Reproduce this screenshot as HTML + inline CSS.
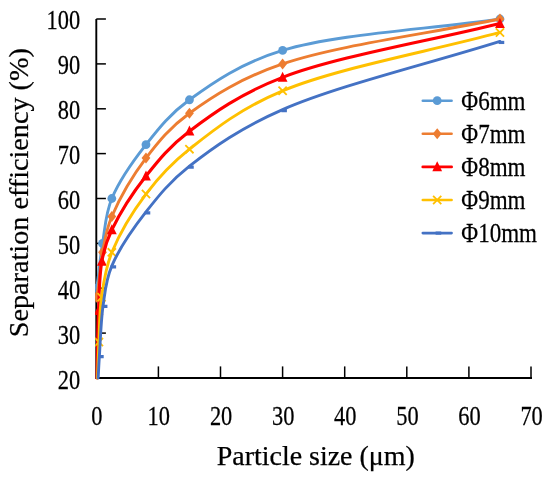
<!DOCTYPE html><html><head><meta charset="utf-8"><style>html,body{margin:0;padding:0;background:#fff;overflow:hidden;}svg{display:block;}text{font-family:"Liberation Serif","Times New Roman",serif;fill:#000;stroke:#000;stroke-width:0.25px;}</style></head><body>
<svg width="550" height="481" viewBox="0 0 550 481">
<g stroke="#000" stroke-width="1.9" fill="none">
<path d="M96.3,19.0L96.3,378.0L532.0,378.0"/>
</g><g stroke="#000" stroke-width="1.5" fill="none">
<path d="M96.3,333.1h9.6"/>
<path d="M96.3,288.2h9.6"/>
<path d="M96.3,243.4h9.6"/>
<path d="M96.3,198.5h9.6"/>
<path d="M96.3,153.6h9.6"/>
<path d="M96.3,108.8h9.6"/>
<path d="M96.3,63.9h9.6"/>
<path d="M96.3,19.0h9.6"/>
<path d="M158.4,378.0v-11.6"/>
<path d="M220.5,378.0v-11.6"/>
<path d="M282.6,378.0v-11.6"/>
<path d="M344.7,378.0v-11.6"/>
<path d="M406.8,378.0v-11.6"/>
<path d="M468.9,378.0v-11.6"/>
<path d="M531.0,378.0v-11.6"/>
</g>
<text transform="translate(80.10,389.10) scale(0.815,1)" font-size="27.50" text-anchor="end">20</text>
<text transform="translate(80.10,344.04) scale(0.815,1)" font-size="27.50" text-anchor="end">30</text>
<text transform="translate(80.10,298.98) scale(0.815,1)" font-size="27.50" text-anchor="end">40</text>
<text transform="translate(80.10,253.91) scale(0.815,1)" font-size="27.50" text-anchor="end">50</text>
<text transform="translate(80.10,208.85) scale(0.815,1)" font-size="27.50" text-anchor="end">60</text>
<text transform="translate(80.10,163.79) scale(0.815,1)" font-size="27.50" text-anchor="end">70</text>
<text transform="translate(80.10,118.72) scale(0.815,1)" font-size="27.50" text-anchor="end">80</text>
<text transform="translate(80.10,73.66) scale(0.815,1)" font-size="27.50" text-anchor="end">90</text>
<text transform="translate(80.10,28.60) scale(0.815,1)" font-size="27.50" text-anchor="end">100</text>
<text transform="translate(96.90,425.00) scale(0.815,1)" font-size="27.50" text-anchor="middle">0</text>
<text transform="translate(158.70,425.00) scale(0.815,1)" font-size="27.50" text-anchor="middle">10</text>
<text transform="translate(221.10,425.00) scale(0.815,1)" font-size="27.50" text-anchor="middle">20</text>
<text transform="translate(283.20,425.00) scale(0.815,1)" font-size="27.50" text-anchor="middle">30</text>
<text transform="translate(345.30,425.00) scale(0.815,1)" font-size="27.50" text-anchor="middle">40</text>
<text transform="translate(407.40,425.00) scale(0.815,1)" font-size="27.50" text-anchor="middle">50</text>
<text transform="translate(469.50,425.00) scale(0.815,1)" font-size="27.50" text-anchor="middle">60</text>
<text transform="translate(531.60,425.00) scale(0.815,1)" font-size="27.50" text-anchor="middle">70</text>
<text transform="translate(216.70,465.00) scale(1.000,1)" font-size="27.96" text-anchor="start">Particle size (μm)</text>
<text transform="translate(28.2,337.2) rotate(-90)" font-size="28.2">Separation efficiency (%)</text>
<defs><clipPath id="pc"><rect x="95.2" y="0" width="460" height="481"/></clipPath></defs><g clip-path="url(#pc)">
<path d="M96.30,288.25 C98.30,282.25 99.93,258.30 102.51,243.38 C105.10,228.39 105.40,213.94 111.83,198.50 C119.03,181.16 132.98,161.15 145.98,144.65 C158.88,128.26 169.80,114.16 189.45,99.77 C213.05,82.50 240.65,63.22 282.60,50.41 C336.83,33.85 427.50,29.47 499.95,19.00" stroke="#5B9BD5" stroke-width="2.9" fill="none" stroke-linejoin="round" stroke-linecap="round"/>
<circle cx="96.30" cy="288.25" r="4.40" fill="#5B9BD5"/>
<circle cx="102.51" cy="243.38" r="4.40" fill="#5B9BD5"/>
<circle cx="111.83" cy="198.50" r="4.40" fill="#5B9BD5"/>
<circle cx="145.98" cy="144.65" r="4.40" fill="#5B9BD5"/>
<circle cx="189.45" cy="99.77" r="4.40" fill="#5B9BD5"/>
<circle cx="282.60" cy="50.41" r="4.40" fill="#5B9BD5"/>
<circle cx="499.95" cy="19.00" r="4.40" fill="#5B9BD5"/>
<path d="M96.30,297.22 C98.80,291.22 99.79,266.21 102.51,252.35 C105.05,239.43 105.98,230.12 111.83,216.45 C119.04,199.59 132.82,175.50 145.98,158.11 C158.79,141.20 169.80,127.62 189.45,113.24 C213.05,95.96 240.76,78.18 282.60,63.88 C336.89,45.31 427.50,33.96 499.95,19.00" stroke="#ED7D31" stroke-width="2.9" fill="none" stroke-linejoin="round" stroke-linecap="round"/>
<path d="M96.30,291.72L100.70,297.22L96.30,302.72L91.90,297.22Z" fill="#ED7D31"/>
<path d="M102.51,246.85L106.91,252.35L102.51,257.85L98.11,252.35Z" fill="#ED7D31"/>
<path d="M111.83,210.95L116.23,216.45L111.83,221.95L107.42,216.45Z" fill="#ED7D31"/>
<path d="M145.98,152.61L150.38,158.11L145.98,163.61L141.58,158.11Z" fill="#ED7D31"/>
<path d="M189.45,107.74L193.85,113.24L189.45,118.74L185.05,113.24Z" fill="#ED7D31"/>
<path d="M282.60,58.38L287.00,63.88L282.60,69.38L278.20,63.88Z" fill="#ED7D31"/>
<path d="M499.95,13.50L504.35,19.00L499.95,24.50L495.55,19.00Z" fill="#ED7D31"/>
<path d="M96.92,378.00 C97.44,355.56 97.56,330.96 98.47,310.69 C99.29,292.49 99.32,275.43 101.89,261.32 C104.12,249.09 105.98,242.05 111.83,229.91 C119.19,214.61 132.98,192.57 145.98,176.06 C158.88,159.68 169.90,146.09 189.45,131.19 C213.10,113.16 240.64,93.52 282.60,77.34 C336.83,56.43 427.50,41.44 499.95,23.49" stroke="#FF0000" stroke-width="3.1" fill="none" stroke-linejoin="round" stroke-linecap="round"/>
<path d="M98.47,305.09L103.37,315.09L93.57,315.09Z" fill="#FF0000"/>
<path d="M101.89,255.72L106.79,265.72L96.99,265.72Z" fill="#FF0000"/>
<path d="M111.83,224.31L116.73,234.31L106.92,234.31Z" fill="#FF0000"/>
<path d="M145.98,170.46L150.88,180.46L141.08,180.46Z" fill="#FF0000"/>
<path d="M189.45,125.59L194.35,135.59L184.55,135.59Z" fill="#FF0000"/>
<path d="M282.60,71.74L287.50,81.74L277.70,81.74Z" fill="#FF0000"/>
<path d="M499.95,17.89L504.85,27.89L495.05,27.89Z" fill="#FF0000"/>
<path d="M97.54,378.00 C98.00,366.03 98.29,354.96 98.91,342.10 C99.58,328.19 99.38,312.12 101.52,297.22 C103.67,282.20 105.35,268.26 111.83,252.35 C119.23,234.15 132.82,211.40 145.98,194.01 C158.79,177.10 170.01,164.55 189.45,149.14 C213.14,130.36 240.47,108.36 282.60,90.80 C336.75,68.24 427.50,51.91 499.95,32.46" stroke="#FFC000" stroke-width="2.9" fill="none" stroke-linejoin="round" stroke-linecap="round"/>
<path d="M94.81,338.00L103.01,346.20M94.81,346.20L103.01,338.00" stroke="#FFC000" stroke-width="1.8" fill="none"/>
<path d="M97.42,293.12L105.62,301.32M97.42,301.32L105.62,293.12" stroke="#FFC000" stroke-width="1.8" fill="none"/>
<path d="M107.73,248.25L115.92,256.45M107.73,256.45L115.92,248.25" stroke="#FFC000" stroke-width="1.8" fill="none"/>
<path d="M141.88,189.91L150.08,198.11M141.88,198.11L150.08,189.91" stroke="#FFC000" stroke-width="1.8" fill="none"/>
<path d="M185.35,145.04L193.55,153.24M185.35,153.24L193.55,145.04" stroke="#FFC000" stroke-width="1.8" fill="none"/>
<path d="M278.50,86.70L286.70,94.90M278.50,94.90L286.70,86.70" stroke="#FFC000" stroke-width="1.8" fill="none"/>
<path d="M495.85,28.36L504.05,36.56M495.85,36.56L504.05,28.36" stroke="#FFC000" stroke-width="1.8" fill="none"/>
<path d="M98.16,378.00 C98.58,370.52 98.77,365.25 99.41,355.56 C100.25,342.70 100.91,320.74 103.13,305.30 C105.19,291.01 105.79,279.96 111.83,265.81 C118.90,249.22 133.01,228.59 145.98,211.96 C158.90,195.39 169.91,181.59 189.45,166.19 C213.10,147.55 240.69,127.94 282.60,109.65 C336.85,85.97 427.50,64.17 499.95,41.44" stroke="#4472C4" stroke-width="2.9" fill="none" stroke-linejoin="round" stroke-linecap="round"/>
<path d="M98.11,356.56L103.70,356.56" stroke="#4472C4" stroke-width="3.2" fill="none"/>
<path d="M101.83,306.30L107.43,306.30" stroke="#4472C4" stroke-width="3.2" fill="none"/>
<path d="M110.53,266.81L116.12,266.81" stroke="#4472C4" stroke-width="3.2" fill="none"/>
<path d="M144.68,212.96L150.28,212.96" stroke="#4472C4" stroke-width="3.2" fill="none"/>
<path d="M188.15,167.19L193.75,167.19" stroke="#4472C4" stroke-width="3.2" fill="none"/>
<path d="M281.30,110.65L286.90,110.65" stroke="#4472C4" stroke-width="3.2" fill="none"/>
<path d="M498.65,42.44L504.25,42.44" stroke="#4472C4" stroke-width="3.2" fill="none"/>
</g>
<path d="M422.8,100.7H451.6" stroke="#5B9BD5" stroke-width="2.6" stroke-linecap="round"/>
<circle cx="437.20" cy="100.70" r="4.40" fill="#5B9BD5"/>
<text transform="translate(461.30,109.70) scale(0.838,1)" font-size="27.50" text-anchor="start">Φ6mm</text>
<path d="M422.8,133.8H451.6" stroke="#ED7D31" stroke-width="2.6" stroke-linecap="round"/>
<path d="M437.20,128.30L441.60,133.80L437.20,139.30L432.80,133.80Z" fill="#ED7D31"/>
<text transform="translate(461.30,142.80) scale(0.838,1)" font-size="27.50" text-anchor="start">Φ7mm</text>
<path d="M422.8,166.9H451.6" stroke="#FF0000" stroke-width="2.8" stroke-linecap="round"/>
<path d="M437.20,161.30L442.10,171.30L432.30,171.30Z" fill="#FF0000"/>
<text transform="translate(461.30,175.90) scale(0.838,1)" font-size="27.50" text-anchor="start">Φ8mm</text>
<path d="M422.8,200.0H451.6" stroke="#FFC000" stroke-width="2.6" stroke-linecap="round"/>
<path d="M433.10,195.90L441.30,204.10M433.10,204.10L441.30,195.90" stroke="#FFC000" stroke-width="1.8" fill="none"/>
<text transform="translate(461.30,209.00) scale(0.838,1)" font-size="27.50" text-anchor="start">Φ9mm</text>
<path d="M422.8,233.1H451.6" stroke="#4472C4" stroke-width="2.6" stroke-linecap="round"/>
<path d="M435.60,233.10L441.20,233.10" stroke="#4472C4" stroke-width="3.2" fill="none"/>
<text transform="translate(461.30,242.10) scale(0.838,1)" font-size="27.50" text-anchor="start">Φ10mm</text>
</svg></body></html>
